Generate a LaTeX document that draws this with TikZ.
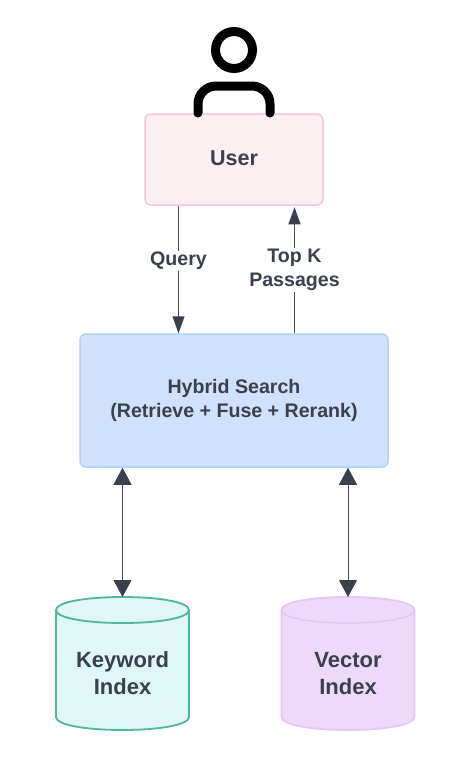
\documentclass[tikz,border=0pt]{standalone}
\usepackage{fontspec}
\setmainfont{Liberation Sans}
\usetikzlibrary{arrows.meta}
\definecolor{ink}{HTML}{3A414C}
\definecolor{linecol}{HTML}{4A4F57}
\definecolor{userfill}{HTML}{FCF0F2}
\definecolor{userline}{HTML}{F6C6D6}
\definecolor{hyfill}{HTML}{CFE1FD}
\definecolor{hyline}{HTML}{B4D0F6}
\definecolor{kwfill}{HTML}{DFF7F5}
\definecolor{kwline}{HTML}{4DB89F}
\definecolor{vefill}{HTML}{EDD9FC}
\definecolor{veline}{HTML}{E3C8F6}
\tikzset{
  x=1pt,y=-1pt,
  boxstyle/.style={rounded corners=6pt,line width=1.5pt,inner sep=0pt,align=center,text=ink,font=\bfseries},
  cylnode/.style={inner sep=0pt,align=center,text=ink,font=\fontsize{22}{27}\selectfont\bfseries},
  cylbody/.style={line width=1.8pt},
  conn/.style={draw=linecol,line width=1pt},
  smalltip/.style={-{Triangle[length=17pt,width=12pt,color=ink]}},
  bothtips/.style={{Triangle[length=17pt,width=18pt,color=ink]}-{Triangle[length=17pt,width=18pt,color=ink]}},
  edgelabel/.style={fill=white,inner xsep=2pt,inner ysep=1pt,align=center,text=ink,font=\fontsize{19.6}{24}\selectfont\bfseries},
  iconline/.style={draw=black,line width=9pt,line cap=round}
}
\newcommand{\cylinderat}[5]{%
  \filldraw[cylbody,draw=#4,fill=#5] (#1,#2+13) -- (#1,#3-13)
    .. controls (#1,#3-5) and (#1+30,#3) .. (#1+66.5,#3)
    .. controls (#1+103,#3) and (#1+133,#3-5) .. (#1+133,#3-13)
    -- (#1+133,#2+13)
    .. controls (#1+133,#2+5) and (#1+103,#2) .. (#1+66.5,#2)
    .. controls (#1+30,#2) and (#1,#2+5) .. (#1,#2+13) -- cycle;
  \draw[cylbody,draw=#4] (#1,#2+13)
    .. controls (#1,#2+21) and (#1+30,#2+26) .. (#1+66.5,#2+26)
    .. controls (#1+103,#2+26) and (#1+133,#2+21) .. (#1+133,#2+13);
}
\begin{document}
\begin{tikzpicture}
\useasboundingbox (0,0) rectangle (474,758);
\fill[white] (0,0) rectangle (474,758);
% boxes
\node[boxstyle,draw=userline,fill=userfill,minimum width=178pt,minimum height=91pt,font=\fontsize{21.5}{26}\selectfont\bfseries] (user) at (234,159.5) {\raisebox{2pt}{User}};
\node[boxstyle,draw=hyline,fill=hyfill,minimum width=308pt,minimum height=133pt,font=\fontsize{19.6}{24}\selectfont\bfseries] (hy) at (234,400.5) {Hybrid Search\\(Retrieve + Fuse + Rerank)};
% person icon
\draw[iconline] (234,50) circle[radius=18.5];
\draw[iconline] (198,113) -- (198,104) arc[start angle=180,end angle=270,radius=18] -- (252,86) arc[start angle=270,end angle=360,radius=18] -- (270,113);
% cylinders
\cylinderat{56}{597}{730}{kwline}{kwfill}
\cylinderat{281.5}{597}{730}{veline}{vefill}
\coordinate (kwtop) at (122.5,597);
\coordinate (vetop) at (348,597);
\node[cylnode] (kw) at (122.5,673.5) {Keyword\\Index};
\node[cylnode] (ve) at (348,673.5) {Vector\\Index};
% connectors
\draw[conn,smalltip] ([xshift=-55.5pt]user.south) -- node[edgelabel,pos=.434] {Query} ([xshift=-55.5pt]hy.north);
\draw[conn,smalltip] ([xshift=60.5pt]hy.north) -- node[edgelabel,pos=.5] {Top K\\Passages} ([xshift=60.5pt,yshift=-1.5pt]user.south);
\draw[conn,bothtips] (hy.south -| kwtop) -- (kwtop);
\draw[conn,bothtips] (hy.south -| vetop) -- (vetop);
\end{tikzpicture}
\end{document}
